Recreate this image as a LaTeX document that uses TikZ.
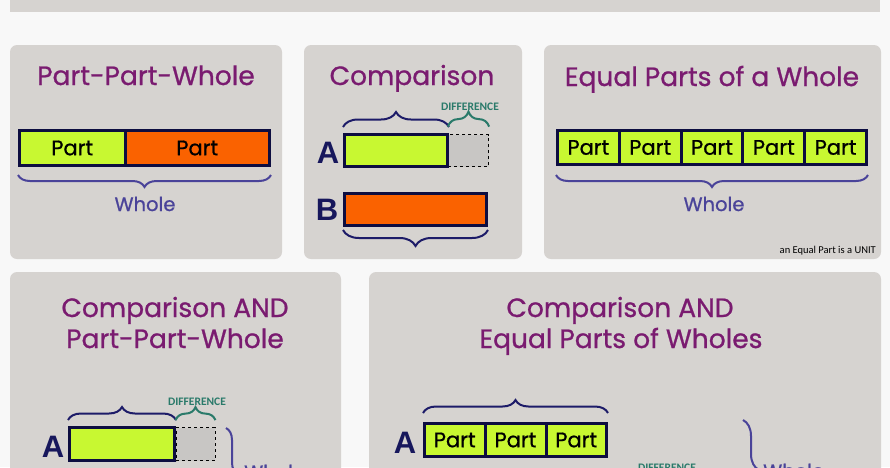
\documentclass[tikz,border=0pt]{standalone}
\usepackage{fontspec}
\usetikzlibrary{decorations.pathreplacing}
\newfontfamily\lsansfam{Liberation Sans}
\newfontfamily\carlitofam{Carlito}
\newfontfamily\advfont{Poppins}[FakeBold=0.8]
\definecolor{bgc}{HTML}{F8F8F8}
\definecolor{panelc}{HTML}{D6D3D0}
\definecolor{titlec}{HTML}{7A1B70}
\definecolor{navyc}{HTML}{0D0D40}
\definecolor{greenc}{HTML}{C8F831}
\definecolor{orangec}{HTML}{FA6200}
\definecolor{bracenavy}{HTML}{1D1B68}
\definecolor{wholec}{HTML}{4A4399}
\definecolor{tealc}{HTML}{2A7A6A}
\definecolor{letterc}{HTML}{17175C}
\definecolor{dashfill}{HTML}{C8C6C4}
\begin{document}
\begin{tikzpicture}[x=1pt,y=-1pt,
  panel/.style={fill=panelc, rounded corners=7pt},
  title/.style={text=titlec, font=\advfont\fontsize{26.5}{30}\selectfont, anchor=base, inner sep=0pt},
  cell/.style={draw=navyc, line width=3pt, inner sep=0pt, font=\advfont\fontsize{21}{24}\selectfont, text=black},
  dbox/.style={draw=black, fill=dashfill, dashed, line width=0.8pt, inner sep=0pt},
  letter/.style={text=letterc, font=\lsansfam\bfseries\fontsize{31}{34}\selectfont, anchor=base, inner sep=0pt},
  difftxt/.style={text=tealc, font=\carlitofam\bfseries\fontsize{11.5}{13}\selectfont, anchor=base, inner sep=0pt},
  wholetxt/.style={text=wholec, font=\advfont\fontsize{19.5}{22}\selectfont, inner sep=0pt},
  notetxt/.style={text=black, font=\carlitofam\fontsize{10.5}{12}\selectfont, inner sep=0pt},
  nbrace/.style={draw=bracenavy, line width=2pt, decorate, decoration={brace, amplitude=#1}},
  tbrace/.style={draw=tealc, line width=2pt, decorate, decoration={brace, amplitude=#1}},
  wbrace/.style={draw=wholec, line width=2pt, decorate, decoration={brace, amplitude=#1}}
]
\useasboundingbox (0,0) rectangle (890,467);
\fill[bgc] (0,0) rectangle (890,467);
% top banner
\fill[panelc] (10,-5) rectangle (880,12);
% panels
\fill[panel] (10,45) rectangle (282,259);
\fill[panel] (304,45) rectangle (522,259);
\fill[panel] (544,45) rectangle (881,259);
\fill[panel] (10,272) rectangle (341,490);
\fill[panel] (369,272) rectangle (881,490);

% ---------- Panel 1 ----------
\node[title] (t1) at (146,85) {Part-Part-Whole};
\node[cell, fill=greenc, minimum width=105.5pt, minimum height=35pt] (p1a) at (72.25,148) {Part};
\node[cell, fill=orangec, minimum width=144.5pt, minimum height=35pt] (p1b) at (197.25,148) {Part};
\draw[wbrace=12pt] ([yshift=-8pt]p1b.south east) -- ([yshift=-8pt]p1a.south west);
\node[wholetxt, anchor=base] (w1) at (145,211) {Whole};

% ---------- Panel 2 ----------
\node[title] (t2) at (412,85) {Comparison};
\node[dbox, minimum width=40.5pt, minimum height=32pt] (p2d) at (468.5,150.5) {};
\node[cell, fill=greenc, minimum width=103pt, minimum height=32pt] (p2a) at (396,150.5) {};
\node[cell, fill=orangec, minimum width=142pt, minimum height=32pt] (p2b) at (415.5,209.5) {};
\node[letter] (p2A) at (328,163) {A};
\node[letter] (p2B) at (327,220) {B};
\draw[nbrace=15pt] ([yshift=6pt]p2a.north west) -- ([yshift=6pt]p2a.north east);
\draw[tbrace=15pt] ([yshift=7.5pt]p2d.north west) -- ([yshift=7.5pt]p2d.north east);
\node[difftxt] (p2diff) at (470,110) {DIFFERENCE};
\draw[nbrace=16pt] ([yshift=-3pt]p2b.south east) -- ([yshift=-3pt]p2b.south west);

% ---------- Panel 3 ----------
\node[title] (t3) at (712,86) {Equal Parts of a Whole};
\node[cell, fill=greenc, minimum width=61.8pt, minimum height=34pt] (p3a) at (588.4,147.5) {Part};
\node[cell, fill=greenc, minimum width=61.8pt, minimum height=34pt] (p3b) at (650.2,147.5) {Part};
\node[cell, fill=greenc, minimum width=61.8pt, minimum height=34pt] (p3c) at (712,147.5) {Part};
\node[cell, fill=greenc, minimum width=61.8pt, minimum height=34pt] (p3d) at (773.8,147.5) {Part};
\node[cell, fill=greenc, minimum width=61.8pt, minimum height=34pt] (p3e) at (835.6,147.5) {Part};
\draw[wbrace=12pt] ([yshift=-9pt]p3e.south east) -- ([yshift=-9pt]p3a.south west);
\node[wholetxt, anchor=base] (w3) at (714,211) {Whole};
\node[notetxt, anchor=base east] (p3n) at (876,253) {an Equal Part is a UNIT};

% ---------- Panel 4 ----------
\node[title] (t4a) at (175,317) {Comparison AND};
\node[title] (t4b) at (175,348) {Part-Part-Whole};
\node[dbox, minimum width=39pt, minimum height=33pt] (p4d) at (195.5,444) {};
\node[cell, fill=greenc, minimum width=105pt, minimum height=33pt] (p4a) at (122,444) {};
\node[letter] (p4A) at (53,457) {A};
\draw[nbrace=13pt] ([yshift=6pt]p4a.north west) -- ([yshift=6pt]p4a.north east);
\draw[tbrace=13pt] ([yshift=7pt]p4d.north west) -- ([yshift=7pt]p4d.north east);
\node[difftxt] (p4diff) at (197,405) {DIFFERENCE};
\coordinate (p4r1) at (226,428);
\coordinate (p4r2) at (226,521);
\draw[wbrace=12pt] (p4r1) -- (p4r2);
\node[wholetxt, anchor=west] (w4) at (244,472) {Whole};

% ---------- Panel 5 ----------
\node[title] (t5a) at (620,317) {Comparison AND};
\node[title] (t5b) at (621,348) {Equal Parts of Wholes};
\node[cell, fill=greenc, minimum width=60.5pt, minimum height=33pt] (p5a) at (454.75,440) {Part};
\node[cell, fill=greenc, minimum width=61pt, minimum height=33pt] (p5b) at (515.5,440) {Part};
\node[cell, fill=greenc, minimum width=60.5pt, minimum height=33pt] (p5c) at (576.25,440) {Part};
\node[letter] (p5A) at (405,453) {A};
\draw[nbrace=13pt] ([yshift=9pt]p5a.north west) -- ([yshift=9pt]p5c.north east);
\node[difftxt] (p5diff) at (667,471) {DIFFERENCE};
\coordinate (p5r1) at (743,420);
\coordinate (p5r2) at (743,520);
\draw[wbrace=16pt] (p5r1) -- (p5r2);
\node[wholetxt, anchor=west] (w5) at (763,471) {Whole};
\end{tikzpicture}
\end{document}
